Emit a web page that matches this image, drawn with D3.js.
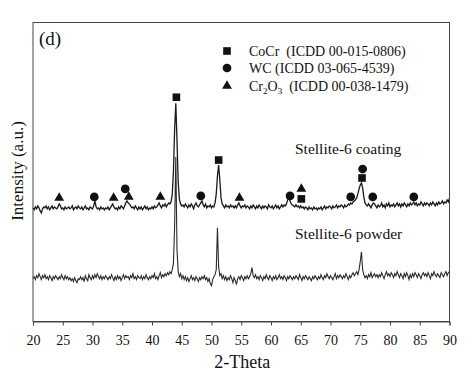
<!DOCTYPE html>
<html>
<head>
<meta charset="utf-8">
<script src="https://cdn.jsdelivr.net/npm/d3@7"></script>
<style>
  html, body { margin: 0; padding: 0; background: #fff; }
  svg text { font-family: "Liberation Serif", "Times New Roman", serif; fill: #111; }
</style>
</head>
<body>
<svg id="chart" width="474" height="384"></svg>
<script>
// ---- data ----
const twoThetaStart = 20, twoThetaStep = 0.2;
const xTicks = [20, 25, 30, 35, 40, 45, 50, 55, 60, 65, 70, 75, 80, 85, 90];

const coating = [
  114,112,115,113,116,114,111,109,113,115,
  114,116,113,115,112,114,116,113,115,114,
  113,115,118,116,113,114,112,115,113,114,
  115,113,114,116,112,114,115,113,116,114,
  113,115,112,114,116,113,114,112,115,114,
  113,116,121,115,113,114,112,115,113,114,
  112,114,113,115,112,114,116,118,115,113,
  114,112,115,113,116,115,113,116,119,121,
  119,118,116,114,115,113,116,114,112,115,
  113,115,112,114,116,113,115,112,114,113,
  115,113,116,114,115,117,119,116,114,117,
  116,118,115,117,119,118,120,127,150,192,
  219,182,140,123,118,116,117,115,118,116,
  114,117,115,118,116,113,117,119,116,115,
  117,119,121,117,115,118,114,116,115,117,
  114,116,115,119,128,146,157,142,124,118,
  116,114,117,115,116,114,117,115,116,114,
  116,114,117,119,116,114,116,115,117,114,
  116,115,113,116,114,117,115,113,116,114,
  117,115,113,116,114,116,115,113,117,115,
  114,116,113,115,117,114,116,113,115,117,
  115,117,116,118,122,124,121,118,117,116,
  115,117,115,116,114,116,114,115,113,115,
  114,112,115,113,114,112,115,113,114,112,
  114,113,115,112,114,116,113,115,114,116,
  115,113,116,114,115,117,114,116,115,117,
  116,114,117,115,116,118,117,119,118,120,
  121,122,124,128,133,137,139,134,125,119,
  117,116,118,116,114,117,119,118,116,114,
  117,115,116,119,115,117,114,118,116,119,
  115,117,116,118,115,117,119,116,118,115,
  118,116,119,117,115,118,116,119,117,118,
  120,117,119,116,118,117,120,118,116,119,
  117,119,118,116,119,117,120,118,116,119,
  117,120,118,119,121,118,120,119,122,120,
  124
];

const powder = [
  43,45,42,46,44,48,45,42,46,44,
  47,43,45,42,46,44,41,45,43,46,
  44,42,45,43,47,44,42,46,43,45,
  42,44,41,43,40,44,41,39,43,42,
  45,42,44,40,46,43,41,47,44,42,
  46,43,47,44,48,45,43,46,42,45,
  43,46,44,42,45,43,47,44,41,45,
  42,46,43,45,41,44,47,43,46,44,
  45,42,46,44,48,43,45,42,46,44,
  43,46,42,45,43,47,44,42,45,43,
  46,44,48,43,45,42,46,49,44,47,
  45,48,46,49,47,50,48,52,58,95,
  165,72,50,45,48,43,46,42,45,41,
  44,40,43,46,42,44,41,45,43,40,
  44,42,45,43,46,42,44,40,43,38,
  36,42,45,47,52,94,55,46,48,43,
  46,42,45,41,44,42,46,43,39,44,
  41,37,43,45,42,46,44,41,45,43,
  46,43,45,48,54,46,44,47,43,45,
  42,46,44,41,45,43,47,44,42,46,
  44,41,45,43,46,42,44,47,43,45,
  42,46,44,41,45,43,46,44,42,45,
  43,46,44,42,47,44,41,45,43,46,
  44,42,45,43,41,45,43,46,44,42,
  45,43,47,44,42,46,44,48,45,43,
  46,44,42,45,48,43,46,44,47,45,
  43,46,44,48,45,42,46,44,47,49,
  46,48,50,47,52,60,70,52,47,44,
  46,43,47,45,49,44,46,48,45,47,
  44,47,45,49,46,43,47,50,46,48,
  45,49,47,44,48,46,50,47,44,48,
  46,43,48,45,49,46,42,47,44,48,
  45,49,47,44,48,46,43,47,49,46,
  48,45,49,46,43,48,46,50,47,45,
  48,46,44,49,47,45,48,50,46,49,
  50
];

// phase markers: [2theta, intensity]
const cocrMarks = [[44.1, 225], [51.2, 162], [65.1, 123], [75.3, 144]];
const wcMarks = [[30.3, 125], [35.5, 133], [48.2, 126], [63.2, 126], [73.4, 125], [75.4, 153], [77.1, 125], [84.0, 125]];
const cr2o3Marks = [[24.4, 124], [33.55, 124], [36.1, 125], [41.4, 125], [54.7, 124], [65.1, 133]];

const legendItems = [
  {shape: "square", label: ["CoCr  (ICDD 00-015-0806)"]},
  {shape: "circle", label: ["WC (ICDD 03-065-4539)"]},
  {shape: "triangle", label: ["Cr", "2", "O", "3", "  (ICDD 00-038-1479)"]}
];

// ---- drawing ----
const svg = d3.select("#chart");
const L = 33, R = 449.5, T = 22.5, B = 321.5;
const x = d3.scaleLinear().domain([20, 90]).range([L, R]);
const y = d3.scaleLinear().domain([0, 300]).range([B, T]);

const toPts = arr => arr.map((v, i) => [twoThetaStart + i * twoThetaStep, v]);
const line = d3.line().x(d => x(d[0])).y(d => y(d[1]));

svg.append("path").datum(toPts(powder))
  .attr("d", line).attr("fill", "none").attr("stroke", "#2a2a2a").attr("stroke-width", 1.1);
svg.append("path").datum(toPts(coating))
  .attr("d", line).attr("fill", "none").attr("stroke", "#1a1a1a").attr("stroke-width", 1.3);

// frame
svg.append("rect").attr("x", L).attr("y", T).attr("width", R - L).attr("height", B - T)
  .attr("fill", "none").attr("stroke", "#444").attr("stroke-width", 1);

// x axis
const xAxis = d3.axisBottom(x).tickValues(xTicks).tickSize(4).tickPadding(10).tickFormat(d3.format("d"));
const gx = svg.append("g").attr("transform", `translate(0,${B})`).call(xAxis);
gx.select(".domain").attr("stroke", "#444");
gx.selectAll(".tick line").attr("stroke", "#444");
gx.selectAll(".tick text").attr("font-size", 14).attr("font-family", "Liberation Serif").attr("fill", "#111");

svg.append("text").attr("x", (L + R) / 2 + 1).attr("y", 368).attr("text-anchor", "middle")
  .attr("font-size", 18).text("2-Theta");
svg.append("text").attr("transform", "translate(23,171) rotate(-90)").attr("text-anchor", "middle")
  .attr("font-size", 17).text("Intensity (a.u.)");

svg.append("text").attr("x", 39).attr("y", 45).attr("font-size", 19).text("(d)");

// markers
const sym = {
  square: d3.symbol().type(d3.symbolSquare).size(58),
  circle: d3.symbol().type(d3.symbolCircle).size(60),
  triangle: d3.symbol().type(d3.symbolTriangle).size(42)
};
function drawMarks(data, shape) {
  svg.append("g").selectAll("path").data(data).join("path")
    .attr("d", sym[shape]())
    .attr("transform", d => `translate(${x(d[0])},${y(d[1])})`)
    .attr("fill", "#111");
}
drawMarks(cocrMarks, "square");
drawMarks(wcMarks, "circle");
drawMarks(cr2o3Marks, "triangle");

// legend
const legY = [51, 68, 86];
legendItems.forEach((it, i) => {
  svg.append("path").attr("d", sym[it.shape]()).attr("transform", `translate(227,${legY[i]})`).attr("fill", "#111");
  const t = svg.append("text").attr("x", 249).attr("y", legY[i] + 5).attr("font-size", 14)
    .style("white-space", "pre");
  if (it.label.length === 1) {
    t.text(it.label[0]);
  } else {
    t.append("tspan").text(it.label[0]);
    t.append("tspan").attr("font-size", 9).attr("dy", 3).text(it.label[1]);
    t.append("tspan").attr("dy", -3).text(it.label[2]);
    t.append("tspan").attr("font-size", 9).attr("dy", 3).text(it.label[3]);
    t.append("tspan").attr("dy", -3).text(it.label[4]);
  }
});

svg.append("text").attr("x", 295).attr("y", 154).attr("font-size", 15.5).text("Stellite-6 coating");
svg.append("text").attr("x", 295).attr("y", 239).attr("font-size", 15.5).text("Stellite-6 powder");
</script>
</body>
</html>
